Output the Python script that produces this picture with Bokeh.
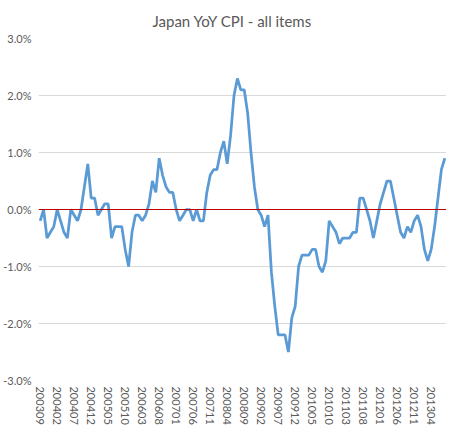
from bokeh.plotting import figure
from bokeh.models import Span, PrintfTickFormatter, FixedTicker, Range1d
from bokeh.embed import file_html
from bokeh.resources import INLINE

# monthly YoY CPI, 2003-09 .. 2013-08 (percent)
cpi = [
    -0.2, 0.0, -0.5, -0.4,                                              # 2003
    -0.3, 0.0, -0.2, -0.4, -0.5, 0.0, -0.1, -0.2, 0.0, 0.4, 0.8, 0.2,   # 2004
    0.2, -0.1, 0.0, 0.1, 0.1, -0.5, -0.3, -0.3, -0.3, -0.7, -1.0, -0.4,  # 2005
    -0.1, -0.1, -0.2, -0.1, 0.1, 0.5, 0.3, 0.9, 0.6, 0.4, 0.3, 0.3,    # 2006
    0.0, -0.2, -0.1, 0.0, 0.0, -0.2, 0.0, -0.2, -0.2, 0.3, 0.6, 0.7,   # 2007
    0.7, 1.0, 1.2, 0.8, 1.3, 2.0, 2.3, 2.1, 2.1, 1.7, 1.0, 0.4,        # 2008
    0.0, -0.1, -0.3, -0.1, -1.1, -1.7, -2.2, -2.2, -2.2, -2.5, -1.9, -1.7,  # 2009
    -1.0, -0.8, -0.8, -0.8, -0.7, -0.7, -1.0, -1.1, -0.9, -0.2, -0.3, -0.4,  # 2010
    -0.6, -0.5, -0.5, -0.5, -0.4, -0.4, 0.2, 0.2, 0.0, -0.2, -0.5, -0.2,  # 2011
    0.1, 0.3, 0.5, 0.5, 0.2, -0.1, -0.4, -0.5, -0.3, -0.4, -0.2, -0.1,  # 2012
    -0.3, -0.7, -0.9, -0.7, -0.3, 0.2, 0.7, 0.9,                        # 2013
]
tick_labels = [
    "200309", "200402", "200407", "200412", "200505", "200510", "200603",
    "200608", "200701", "200706", "200711", "200804", "200809", "200902",
    "200907", "200912", "201005", "201010", "201103", "201108", "201201",
    "201206", "201211", "201304",
]
y_ticks = [-3, -2, -1, 0, 1, 2, 3]

x = list(range(len(cpi)))
font = "Lato"
grey = "#595959"

p = figure(width=446, height=427, output_backend="svg", toolbar_location=None,
           x_range=Range1d(-0.5, len(cpi) - 0.5), y_range=Range1d(-3, 3),
           min_border_left=34, min_border_right=0, min_border_top=38,
           min_border_bottom=0)
p.title.text = "Japan YoY CPI - all items"
p.title.align = "left"
p.title.offset = 114
p.title.standoff = 18
p.title.text_font = font
p.title.text_font_size = "15px"
p.title.text_font_style = "normal"
p.title.text_color = grey
p.outline_line_color = None
p.background_fill_color = "white"

p.xgrid.grid_line_color = None
p.ygrid.grid_line_color = "#d9d9d9"
p.ygrid.ticker = FixedTicker(ticks=y_ticks)

p.yaxis.ticker = FixedTicker(ticks=y_ticks)
p.yaxis.formatter = PrintfTickFormatter(format="%.1f%%")
p.xaxis.ticker = FixedTicker(ticks=[i * 5 for i in range(len(tick_labels))])
p.xaxis.major_label_overrides = {i * 5: t for i, t in enumerate(tick_labels)}
p.xaxis.major_label_orientation = "vertical"
for ax in (p.xaxis, p.yaxis):
    ax.axis_line_color = None
    ax.major_tick_line_color = None
    ax.minor_tick_line_color = None
    ax.major_tick_out = 0
    ax.major_tick_in = 0
    ax.minor_tick_out = 0
    ax.minor_tick_in = 0
    ax.axis_label_standoff = 0
    ax.major_label_text_font = font
    ax.major_label_text_color = grey
p.yaxis.major_label_text_font_size = "11px"
p.yaxis.major_label_standoff = 7
p.xaxis.major_label_text_font_size = "11px"
p.xaxis.major_label_standoff = 6

p.add_layout(Span(location=0, dimension="width", line_color="#c00000", line_width=1))
p.line(x, cpi, line_color="#5b9bd5", line_width=2.75)

open("out.html", "w").write(file_html(p, INLINE))
